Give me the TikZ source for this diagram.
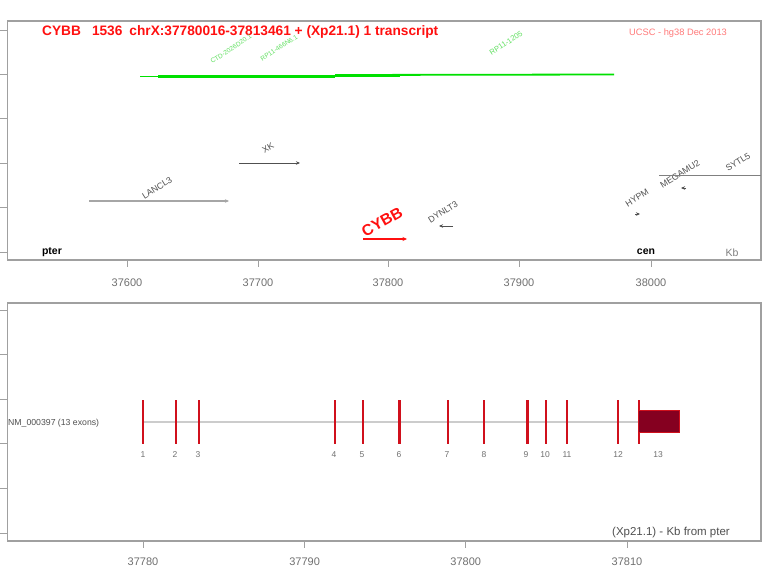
\documentclass[tikz,border=0pt]{standalone}
\usepackage{fontspec}
\setmainfont{Liberation Sans}
\usetikzlibrary{arrows.meta}
\definecolor{framec}{HTML}{A0A0A0}
\definecolor{titlered}{HTML}{FF1010}
\definecolor{ucscred}{HTML}{FF7A7A}
\definecolor{genegreen}{HTML}{00E000}
\definecolor{labgreen}{HTML}{60E060}
\definecolor{exonred}{HTML}{D0101C}
\definecolor{maroon}{HTML}{850020}
\definecolor{ticktext}{HTML}{707070}
\definecolor{genetext}{HTML}{505050}
\begin{document}
\begin{tikzpicture}[x=1pt,y=-1pt,
  frameline/.style={draw=framec,line width=1.2pt},
  tickline/.style={draw=framec,line width=1pt},
  ticklab/.style={text=ticktext,font=\fontsize{11}{12}\selectfont,inner sep=0pt},
  genelab/.style={text=genetext,font=\fontsize{8.8}{9}\selectfont,rotate=32,inner sep=0pt},
  greenlab/.style={text=labgreen,font=\fontsize{6.5}{7}\selectfont,rotate=33,inner sep=0pt},
  exon/.style={draw=exonred,line width=2pt},
  exonnum/.style={text=ticktext,font=\fontsize{8.5}{9}\selectfont,inner sep=0pt},
  garrow/.style={-{Stealth[length=4pt,width=3.5pt]}},
]
\useasboundingbox (0,0) rectangle (768,576);
\fill[white] (0,0) rectangle (768,576);

% ---------------- top panel ----------------
\draw[frameline] (7.5,21) rectangle (761,260);
\foreach \yy in {30,74.4,118.8,163.2,207.6,252} \draw[tickline] (0,\yy) -- (7.5,\yy);
\foreach \xx/\lab [count=\i] in {127/37600,258/37700,388/37800,519/37900,651/38000} {
  \draw[tickline] (\xx,260) -- (\xx,267);
  \node[ticklab] (tt\i) at (\xx,283) {\lab};
}
\node[anchor=west,text=titlered,font=\fontsize{13.7}{14}\bfseries,inner sep=0pt] (title) at (42,32)
  {CYBB\hspace{11pt}1536\hspace{7pt}chrX:37780016-37813461 + (Xp21.1) 1 transcript};
\node[anchor=west,text=ucscred,font=\fontsize{9.3}{10}\selectfont,inner sep=0pt] (ucsc) at (629,33) {UCSC - hg38 Dec 2013};

% green tracks
\draw[genegreen,line width=1.2pt] (140,76.5) -- (400,76.5);
\draw[genegreen,line width=3pt] (158,76) -- (335,76);
\draw[genegreen,line width=1.8pt] (335,75) -- (614,74.5);
\node[greenlab] (g1) at (231,49) {CTD-2026D20.1};
\node[greenlab] (g2) at (279,48) {RP11-466N6.1};
\node[greenlab,font=\fontsize{7.5}{8}\selectfont] (g3) at (506,43) {RP11-1205};

% genes
\draw[draw=gray!70,line width=1.5pt,garrow] (89,201) -- (229,201);
\node[genelab] (lancl3) at (157,188) {LANCL3};
\draw[draw=genetext,line width=0.9pt,garrow] (239,163) -- (300,163);
\node[genelab] (xk) at (268,148) {XK};
\draw[draw=titlered,line width=1.5pt,-{Stealth[length=4.5pt,width=4pt]}] (363,239) -- (407,239);
\node[text=titlered,font=\fontsize{15.5}{16}\bfseries,rotate=29,inner sep=0pt] (cybb) at (382,222) {CYBB};
\draw[draw=genetext,line width=0.9pt,garrow] (453,226) -- (439,226);
\node[genelab] (dynlt3) at (443,212) {DYNLT3};
\draw[draw=genetext,line width=0.8pt,garrow] (635,214) -- (640,214);
\node[genelab] (hypm) at (637,198) {HYPM};
\draw[draw=genetext,line width=0.8pt,garrow] (686,188) -- (681,188);
\node[genelab] (mega) at (680,174) {MEGAMU2};
\draw[draw=gray,line width=1pt] (659,175) -- (761,175);
\node[genelab] (sytl5) at (738,162) {SYTL5};

\node[font=\fontsize{10.5}{11}\bfseries,inner sep=0pt] (pter) at (52,252) {pter};
\node[font=\fontsize{10.5}{11}\bfseries,inner sep=0pt] (cen) at (646,252) {cen};
\node[text=gray,font=\fontsize{10.5}{11}\selectfont,inner sep=0pt] (kb) at (732,253) {Kb};

% ---------------- bottom panel ----------------
\draw[frameline] (7.5,303) rectangle (761,541);
\foreach \yy in {310,354.6,399.2,443.8,488.4,533} \draw[tickline] (0,\yy) -- (7.5,\yy);
\foreach \xx/\lab [count=\i] in {143/37780,304.6/37790,465.7/37800,627/37810} {
  \draw[tickline] (\xx,541) -- (\xx,548);
  \node[ticklab] (bt\i) at (\xx,562) {\lab};
}
\node[anchor=west,text=genetext,font=\fontsize{8.7}{9}\selectfont,inner sep=0pt] (nm) at (8,423) {NM\_000397 (13 exons)};
\draw[draw=gray!40,line width=2pt] (143,422) -- (639,422);
\foreach \xx/\w [count=\i] in {143.3/2,176/2,199.3/2,335/2,362.7/2,399.5/3,448.3/2,484.3/2,527.3/3,545.7/2,567.3/2,618.3/2,638.5/2}
  \draw[exon,line width=\w pt] (\xx,400) -- (\xx,444);
\draw[draw=exonred,fill=maroon,line width=0.8pt] (638.5,410.7) rectangle (679.5,432.3);
\foreach \xx/\lab in {143/1,175/2,198/3,334/4,362/5,399/6,447/7,484/8,526/9,545/10,567/11,618/12,658/13}
  \node[exonnum] (en\lab) at (\xx,455) {\lab};
\node[text=genetext,font=\fontsize{11.5}{12}\selectfont,inner sep=0pt] (kbp) at (671,533) {(Xp21.1) - Kb from pter};
\end{tikzpicture}
\end{document}
